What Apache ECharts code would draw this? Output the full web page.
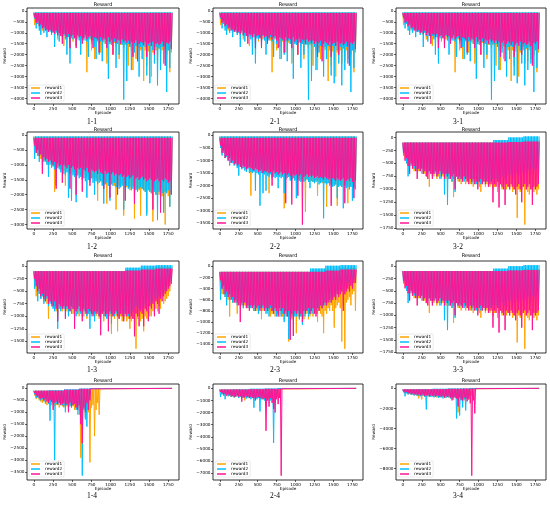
<!DOCTYPE html>
<html><head><meta charset="utf-8">
<script src="https://cdn.jsdelivr.net/npm/echarts@6/dist/echarts.min.js"></script>
<style>html,body{margin:0;padding:0;background:#fff}#c{width:550px;height:505px}</style>
</head><body><div id="c"></div><script>
// sampled episode positions (every 10 episodes)
const episodes = Array.from({length:181},(_,i)=>i*10);
const seriesNames = ['reward1','reward2','reward3'];
const colors = ['#FFA500','#00BFFF','#FF1493'];
const xTicks = [0,250,500,750,1000,1250,1500,1750];
const ticksA = [0,-500,-1000,-1500,-2000,-2500,-3000,-3500,-4000];
const ticksB = [0,-500,-1000,-1500,-2000,-2500,-3000];
const ticksC = [0,-500,-1000,-1500,-2000,-2500,-3000,-3500];
const ticksD = [0,-250,-500,-750,-1000,-1250,-1500];
const ticksE = [0,-200,-400,-600,-800,-1000,-1200,-1400];
const ticksF = [0,-250,-500,-750,-1000,-1250,-1500,-1750];
const ticksG = [0,-500,-1000,-1500,-2000,-2500,-3000,-3500];
const ticksH = [0,-1000,-2000,-3000,-4000,-5000,-6000,-7000];
const ticksI = [0,-2000,-4000,-6000,-8000];

// ---- dataset A (1-1, 2-1, 3-1): band tops and per-20-episode troughs
const A_top = [-80,-70,-100];
const A_reward1 = [-650,-400,-600,-700,-550,-900,-800,-750,-900,-850,
-900,-1000,-850,-1100,-950,-1300,-1000,-1100,-1050,-1600,
-1050,-1200,-1100,-1300,-1150,-1400,-1200,-1250,-1300,-1200,
-1250,-1300,-1200,-1350,-2800,-1250,-1300,-1800,-1350,-2200,
-1350,-1400,-1300,-1900,-1400,-1450,-1500,-2400,-1400,-1500,
-1500,-2000,-1450,-1600,-1500,-2200,-1550,-1500,-1700,-1550,
-1600,-2500,-1650,-1800,-2700,-1700,-2200,-1650,-1700,-1800,
-1750,-3200,-1800,-2500,-1850,-1700,-3000,-1900,-1750,-1800,
-2400,-1750,-2300,-1800,-2200,-1750,-2000,-1800,-2800,-1900];
const A_reward2 = [-350,-800,-600,-900,-1100,-700,-1000,-850,-1200,-950,
-950,-1100,-1000,-1650,-1000,-1150,-1400,-1100,-1200,-1150,
-1300,-2000,-1200,-2400,-1250,-1300,-1200,-1600,-1150,-1350,
-2000,-1300,-1350,-1200,-1400,-2100,-1250,-1500,-1300,-1650,
-2200,-1350,-2000,-1400,-2300,-1350,-1500,-1400,-3100,-1500,
-1550,-1450,-1400,-2600,-1500,-2000,-1450,-1550,-4050,-1500,
-3200,-1500,-1650,-2700,-1500,-1900,-1600,-1550,-3000,-1650,
-2200,-1600,-1650,-2950,-1600,-3300,-1550,-1800,-2400,-1650,
-3400,-1700,-2700,-1650,-2400,-1600,-3700,-1800,-2600,-1700];
const A_reward3 = [-300,-550,-480,-700,-620,-800,-750,-900,-850,-950,
-880,-1000,-950,-1050,-900,-1100,-1000,-1150,-1500,-1050,
-1100,-1200,-1050,-1700,-1150,-1100,-1250,-1700,-1100,-1200,
-1150,-1500,-1250,-1100,-1300,-1200,-1150,-1350,-1700,-1200,
-1250,-1300,-1900,-1200,-1350,-1250,-1300,-1700,-1200,-1400,
-1300,-2000,-1250,-1450,-1300,-1350,-1500,-1300,-1400,-1350,
-1450,-1350,-1500,-1400,-2100,-1450,-1350,-2300,-1500,-1400,
-1450,-1550,-1400,-2100,-1500,-1450,-1600,-1400,-2000,-1500,
-1450,-1550,-1500,-1400,-1600,-2500,-1450,-1500,-1400,-1750];

// ---- dataset B (1-2)
const B_top = [-60,-50,-100];
const B_reward1 = [-400,-600,-550,-700,-800,-750,-850,-900,-950,-1000,
-900,-1000,-1050,-1900,-1000,-1100,-1050,-1150,-1100,-1200,
-1700,-1150,-1250,-1200,-1300,-1250,-1300,-1250,-1350,-1300,
-1350,-1400,-1300,-1450,-1400,-1350,-1500,-1400,-1450,-1500,
-1450,-2200,-1500,-1550,-1600,-1500,-1650,-2300,-1550,-1600,
-1650,-1600,-1700,-2500,-1650,-1700,-1750,-1650,-2700,-1700,
-1750,-1700,-1850,-1750,-1700,-2800,-1800,-1750,-1850,-2700,
-1800,-1850,-1900,-2600,-1800,-1900,-1950,-2900,-1850,-2000,
-1900,-2000,-1850,-2050,-1950,-3000,-1900,-2050,-2400,-1950];
const B_reward2 = [-800,-500,-700,-900,-650,-800,-900,-850,-1000,-1400,
-1000,-1100,-1050,-1150,-1700,-1100,-1150,-1250,-1200,-1300,
-1350,-1250,-2100,-1300,-2200,-1350,-1400,-2250,-1350,-1450,
-1400,-1500,-1450,-1550,-2100,-1500,-1550,-1450,-1600,-2000,
-1550,-1650,-1600,-1550,-1700,-2300,-1650,-1600,-1700,-2200,
-1650,-1700,-1600,-1750,-1700,-1800,-1750,-1700,-2500,-1800,
-1700,-1800,-1750,-1850,-1800,-1750,-1850,-1900,-1800,-1750,
-1800,-1850,-1900,-2700,-1850,-1900,-1950,-1800,-1900,-2000,
-2850,-1900,-1850,-1950,-2600,-1900,-1950,-1850,-2400,-1900];
const B_reward3 = [-350,-600,-500,-700,-650,-1300,-750,-850,-800,-900,
-850,-950,-1000,-900,-1800,-950,-1050,-1000,-1600,-1000,
-1050,-1100,-1000,-1800,-1100,-1050,-1150,-2000,-1100,-1150,
-1100,-1900,-1150,-1200,-1100,-1250,-1700,-1150,-1200,-1250,
-1200,-1300,-1150,-1250,-1300,-1800,-1200,-1300,-1250,-2100,
-1300,-1250,-1350,-1300,-2000,-1350,-1300,-1400,-1350,-2200,
-1400,-1350,-1450,-1400,-1350,-2300,-1450,-1400,-1500,-1450,
-1400,-1500,-1450,-1550,-1500,-1450,-1500,-2500,-1550,-1500,
-1450,-1550,-2600,-1500,-1550,-1450,-1500,-1600,-1550,-2000];

// ---- dataset C (2-2)
const C_top = [-50,-40,-100];
const C_reward1 = [-300,-500,-600,-700,-750,-800,-900,-850,-950,-1000,
-1050,-1000,-1100,-1150,-1100,-1200,-1250,-1200,-1300,-1250,
-2400,-1300,-1350,-1400,-1350,-1450,-1400,-1450,-1400,-1450,
-1500,-1450,-2300,-1500,-1550,-1500,-1550,-1500,-1600,-1550,
-1600,-1550,-2900,-1650,-1600,-1650,-1700,-1650,-1700,-1750,
-1700,-1750,-1800,-1750,-1700,-1800,-3050,-1750,-1800,-1850,
-1800,-1850,-1900,-1800,-2400,-1850,-1800,-1900,-1850,-1900,
-2850,-1900,-1950,-1900,-1950,-2000,-1950,-2800,-2000,-1950,
-2000,-2050,-1950,-2000,-2700,-1950,-2000,-2050,-2000,-1950];
const C_reward2 = [-500,-800,-700,-900,-850,-1000,-1200,-1050,-1100,-1200,
-1150,-1300,-1600,-1250,-1350,-1300,-1400,-1450,-1350,-1500,
-1450,-1500,-1450,-2200,-1500,-1550,-2800,-1500,-2300,-1550,
-2200,-1600,-1650,-1550,-1700,-1650,-1700,-1650,-2100,-1650,
-1700,-1650,-2300,-1750,-1700,-1650,-1800,-1750,-1700,-1800,
-2500,-1750,-1800,-1850,-1800,-1850,-1800,-1750,-1850,-2100,
-1800,-1850,-1900,-1850,-1800,-1950,-1900,-1850,-3300,-1900,
-1950,-1900,-2000,-1950,-2050,-2000,-1950,-2500,-2050,-2000,
-2050,-2900,-2000,-2100,-2050,-2150,-2050,-2600,-2100,-2150];
const C_reward3 = [-400,-700,-600,-900,-800,-1000,-900,-1100,-1000,-1150,
-1100,-1200,-1150,-1250,-1300,-1200,-1250,-1350,-1300,-1250,
-1300,-1350,-1400,-1300,-1350,-1450,-1400,-1350,-1500,-1400,
-1450,-1400,-1500,-1450,-2000,-1400,-1500,-1450,-1550,-1500,
-1450,-1550,-1500,-2700,-1550,-1500,-1600,-2750,-1550,-1600,
-1550,-2400,-1600,-1550,-3550,-1650,-1600,-1550,-1650,-1600,
-1650,-1600,-1700,-1650,-1600,-1700,-1650,-1700,-1750,-1650,
-1700,-1750,-1700,-2800,-1700,-1750,-1800,-1700,-1750,-1800,
-1750,-1700,-2700,-1800,-1750,-1800,-1700,-1850,-2500,-1800];

// ---- dataset D (1-3): tops per 200-episode block
const D_top1 = [-100,-100,-100,-100,-100,-100,-80,-40,-20];
const D_top2 = [-100,-100,-100,-100,-100,-100,-30,10,20];
const D_top3 = [-100,-100,-100,-100,-100,-100,-90,-70,-50];
const D_reward1 = [-300,-600,-500,-550,-650,-600,-700,-650,-750,-1050,
-700,-750,-800,-750,-900,-1000,-800,-850,-900,-800,
-850,-900,-950,-850,-900,-950,-850,-900,-950,-1000,
-900,-950,-1000,-950,-1050,-900,-950,-1000,-950,-900,
-1000,-950,-1050,-1000,-950,-1100,-1000,-950,-1050,-1000,
-1350,-1000,-1050,-1000,-1300,-1050,-1000,-1100,-1050,-1000,
-1100,-1050,-1250,-1100,-1050,-1100,-1650,-1050,-1000,-1100,
-1050,-1300,-1000,-1050,-950,-1000,-1000,-900,-950,-850,
-900,-800,-850,-600,-750,-700,-650,-600,-500,-250];
const D_reward2 = [-450,-300,-700,-550,-650,-600,-750,-700,-650,-800,
-750,-800,-850,-900,-800,-1250,-850,-900,-800,-850,
-900,-850,-1000,-900,-950,-850,-900,-1000,-950,-900,
-950,-1000,-900,-950,-1000,-950,-1250,-900,-950,-1100,
-900,-950,-1000,-950,-900,-1000,-950,-1050,-1000,-950,
-1150,-950,-1000,-950,-900,-1000,-950,-900,-1000,-950,
-900,-1000,-950,-850,-900,-850,-800,-900,-850,-800,
-850,-800,-750,-800,-700,-750,-650,-700,-600,-650,
-550,-600,-500,-550,-450,-500,-400,-350,-300,-250];
const D_reward3 = [-250,-400,-500,-450,-600,-550,-650,-700,-600,-750,
-700,-750,-800,-700,-850,-1100,-750,-800,-850,-800,
-1050,-800,-850,-900,-800,-850,-1250,-900,-850,-800,
-900,-1100,-850,-900,-950,-850,-900,-950,-1000,-900,
-950,-900,-1000,-1380,-950,-900,-1000,-950,-1300,-900,
-950,-1000,-950,-900,-1000,-1050,-950,-1000,-1100,-950,
-1000,-950,-1050,-1000,-1050,-1400,-950,-1000,-1200,-900,
-950,-1200,-850,-900,-1100,-800,-850,-750,-1000,-700,
-750,-950,-650,-700,-600,-550,-500,-450,-400,-350];

// ---- dataset E (2-3)
const E_top1 = [-100,-100,-100,-100,-100,-100,-90,-60,-30];
const E_top2 = [-100,-100,-100,-100,-100,-100,-40,10,20];
const E_top3 = [-100,-100,-100,-100,-100,-100,-100,-80,-60];
const E_reward1 = [-300,-500,-450,-550,-500,-600,-900,-550,-650,-600,
-650,-850,-600,-700,-650,-750,-700,-650,-750,-700,
-750,-700,-800,-750,-800,-850,-750,-950,-800,-750,
-800,-850,-800,-900,-850,-800,-900,-850,-800,-900,
-850,-900,-950,-900,-850,-1350,-900,-950,-900,-850,
-1200,-900,-950,-900,-850,-950,-900,-850,-950,-900,
-850,-900,-800,-850,-1000,-800,-850,-900,-1200,-800,
-850,-750,-800,-700,-800,-1100,-750,-700,-650,-750,
-1350,-700,-1480,-650,-600,-550,-700,-500,-450,-800];
const E_reward2 = [-600,-400,-500,-550,-700,-500,-600,-550,-650,-600,
-650,-700,-600,-650,-700,-750,-650,-700,-750,-700,
-750,-700,-800,-750,-700,-850,-750,-800,-750,-800,
-850,-800,-900,-750,-800,-850,-800,-900,-850,-800,
-900,-850,-1000,-850,-900,-1300,-850,-900,-850,-900,
-900,-850,-950,-900,-1050,-900,-850,-800,-900,-850,
-800,-850,-750,-800,-850,-750,-700,-750,-650,-700,
-650,-600,-650,-550,-600,-500,-550,-450,-500,-400,
-450,-400,-350,-400,-300,-350,-250,-300,-200,-250];
const E_reward3 = [-250,-400,-350,-500,-450,-550,-500,-600,-550,-650,
-600,-650,-700,-1000,-650,-700,-650,-750,-700,-800,
-700,-750,-700,-800,-750,-700,-800,-750,-700,-800,
-750,-800,-750,-700,-800,-850,-750,-800,-900,-750,
-800,-750,-850,-800,-900,-800,-1320,-850,-1250,-800,
-850,-800,-900,-850,-1000,-800,-850,-800,-750,-850,
-800,-750,-850,-900,-750,-800,-700,-750,-700,-650,
-700,-650,-600,-650,-600,-550,-600,-500,-550,-500,
-450,-800,-500,-450,-400,-450,-350,-400,-300,-300];

// ---- dataset F (3-2, 3-3)
const F_top1 = [-100,-100,-100,-100,-100,-100,-100,-80,-60];
const F_top2 = [-100,-100,-100,-100,-100,-100,-50,0,20];
const F_top3 = [-100,-100,-100,-100,-100,-100,-100,-90,-80];
const F_reward1 = [-250,-400,-500,-450,-550,-500,-600,-650,-550,-600,
-650,-600,-700,-650,-700,-750,-650,-950,-700,-650,
-750,-700,-800,-750,-700,-800,-750,-700,-800,-750,
-800,-750,-850,-1150,-800,-750,-850,-800,-900,-850,
-800,-900,-850,-800,-900,-850,-950,-900,-850,-900,
-950,-1050,-900,-850,-950,-900,-850,-950,-900,-1000,
-950,-900,-1050,-950,-900,-1000,-950,-900,-1000,-950,
-1000,-950,-1050,-1000,-950,-1550,-1000,-1050,-1000,-950,
-1680,-1000,-1050,-1100,-1000,-950,-1050,-1000,-1100,-1000];
const F_reward2 = [-350,-250,-500,-750,-450,-550,-500,-600,-550,-650,
-600,-650,-600,-700,-650,-600,-700,-650,-700,-750,
-700,-650,-750,-700,-800,-750,-700,-1100,-750,-1300,
-800,-750,-850,-800,-1050,-750,-800,-850,-800,-750,
-850,-800,-750,-850,-800,-900,-850,-800,-900,-850,
-800,-900,-850,-800,-900,-850,-800,-850,-900,-800,
-850,-800,-750,-850,-800,-750,-700,-800,-750,-700,
-750,-700,-800,-750,-700,-650,-750,-700,-650,-700,
-650,-700,-600,-650,-700,-600,-650,-600,-550,-600];
const F_reward3 = [-300,-450,-400,-550,-700,-500,-600,-550,-650,-800,
-600,-650,-600,-700,-650,-750,-800,-650,-700,-800,
-700,-650,-750,-700,-650,-750,-700,-800,-700,-750,
-700,-800,-750,-700,-1000,-750,-800,-750,-800,-850,
-750,-800,-850,-900,-800,-850,-800,-900,-850,-1000,
-850,-800,-900,-850,-900,-850,-950,-900,-850,-1250,
-900,-950,-850,-1350,-900,-950,-1000,-1300,-900,-950,
-1000,-900,-950,-1000,-1100,-950,-900,-1000,-1250,-950,
-900,-1000,-950,-900,-1000,-1300,-950,-1000,-950,-900];

// ---- dataset G (1-4): learning ends, then flat reward
const G_top1 = [-100,-100,-80,-40,-20];
const G_top2 = [-100,-80,-40,-10];
const G_top3 = [-100,-100,-60,-20];
const G_flat = 0;
const G_reward1 = [-300,-450,-400,-500,-550,-600,-500,-650,-700,-600,
-650,-700,-600,-750,-700,-650,-800,-700,-750,-800,
-700,-750,-850,-700,-800,-750,-900,-800,-1100,-800,
-2900,-1000,-800,-1200,-900,-1000,-3100,-800,-700,-2000,
-900,-600,-1100];
const G_reward2 = [-250,-400,-300,-450,-500,-450,-550,-600,-500,-650,
-1350,-550,-600,-3000,-650,-700,-600,-650,-700,-750,
-1000,-700,-650,-750,-800,-700,-650,-900,-750,-1100,
-800,-3650,-900,-1300,-1600,-700];
const G_reward3 = [-200,-300,-350,-400,-450,-400,-500,-450,-550,-600,
-500,-550,-900,-600,-550,-650,-600,-700,-650,-600,
-700,-650,-1000,-600,-750,-700,-650,-800,-900,-700,
-1500,-2300,-800,-1000,-600,-900,-500];

// ---- dataset H (2-4)
const H_top1 = [-100,-100,-80,-50];
const H_top2 = [-100,-80,-30,-10];
const H_top3 = [-100,-100,-70,-40,-30];
const H_flat = 0;
const H_reward1 = [-300,-450,-500,-600,-550,-650,-600,-700,-650,-750,
-700,-650,-750,-700,-800,-750,-1000,-700,-750,-800,
-750,-800,-700,-850,-800,-750,-850,-800,-900,-850,
-800,-900,-850,-800,-900,-1000,-850,-700,-600,-500];
const H_reward2 = [-700,-500,-600,-900,-550,-650,-600,-700,-650,-750,
-700,-650,-800,-700,-750,-800,-700,-850,-750,-800,
-900,-800,-1600,-850,-900,-800,-1900,-900,-850,-1000,
-900,-950,-800,-1000,-900,-4500,-800,-700];
const H_reward3 = [-300,-400,-500,-450,-600,-500,-550,-650,-600,-700,
-650,-600,-700,-650,-1100,-700,-750,-650,-700,-800,
-700,-750,-800,-1000,-750,-700,-800,-750,-900,-800,
-3500,-1000,-1500,-800,-1200,-1700,-2000,-900,-1300,-800,
-7200];

// ---- dataset I (3-4)
const I_top1 = [-100,-100,-80,-50,-40];
const I_top2 = [-100,-80,-40,-10,-10];
const I_top3 = [-100,-100,-80,-50,-30];
const I_flat = 0;
const I_reward1 = [-300,-500,-450,-600,-550,-650,-600,-700,-650,-750,
-1000,-700,-1100,-750,-700,-800,-750,-850,-800,-750,
-850,-800,-900,-850,-800,-900,-850,-950,-900,-850,
-950,-900,-1000,-950,-900,-1000,-2400,-950,-1100,-1000,
-1200,-1000,-900,-1100,-800,-700];
const I_reward2 = [-400,-800,-500,-600,-550,-650,-600,-700,-650,-750,
-700,-800,-750,-700,-850,-2100,-800,-750,-850,-800,
-900,-850,-800,-950,-900,-850,-1000,-900,-950,-850,
-900,-1000,-950,-1100,-900,-3000,-1000,-2700,-1200,-1900,
-1100,-2200,-900,-800];
const I_reward3 = [-300,-400,-350,-500,-450,-550,-500,-600,-550,-650,
-600,-700,-650,-600,-750,-700,-650,-800,-700,-750,
-700,-800,-750,-700,-850,-800,-750,-900,-800,-850,
-800,-900,-1200,-850,-900,-1000,-1800,-900,-1100,-1200,
-900,-1000,-1300,-1100,-1500,-8700,-1200,-2500];

const datasets = {
  A:{low:[A_reward1,A_reward2,A_reward3], top:A_top},
  B:{low:[B_reward1,B_reward2,B_reward3], top:B_top},
  C:{low:[C_reward1,C_reward2,C_reward3], top:C_top},
  D:{low:[D_reward1,D_reward2,D_reward3], top:[D_top1,D_top2,D_top3]},
  E:{low:[E_reward1,E_reward2,E_reward3], top:[E_top1,E_top2,E_top3]},
  F:{low:[F_reward1,F_reward2,F_reward3], top:[F_top1,F_top2,F_top3]},
  G:{low:[G_reward1,G_reward2,G_reward3], top:[G_top1,G_top2,G_top3], flat:G_flat},
  H:{low:[H_reward1,H_reward2,H_reward3], top:[H_top1,H_top2,H_top3], flat:H_flat},
  I:{low:[I_reward1,I_reward2,I_reward3], top:[I_top1,I_top2,I_top3], flat:I_flat}
};
const panels = [
  {name:'1-1',ds:'A',ticks:ticksA,col:0,row:0},{name:'2-1',ds:'A',ticks:ticksA,col:1,row:0},{name:'3-1',ds:'A',ticks:ticksA,col:2,row:0},
  {name:'1-2',ds:'B',ticks:ticksB,col:0,row:1},{name:'2-2',ds:'C',ticks:ticksC,col:1,row:1},{name:'3-2',ds:'F',ticks:ticksF,col:2,row:1},
  {name:'1-3',ds:'D',ticks:ticksD,col:0,row:2},{name:'2-3',ds:'E',ticks:ticksE,col:1,row:2},{name:'3-3',ds:'F',ticks:ticksF,col:2,row:2},
  {name:'1-4',ds:'G',ticks:ticksG,col:0,row:3},{name:'2-4',ds:'H',ticks:ticksH,col:1,row:3},{name:'3-4',ds:'I',ticks:ticksI,col:2,row:3}
];

// layout
const cols = [{left:27,width:152,cx:92},{left:213,width:150,cx:275},{left:396,width:150,cx:458}];
const rows = [{top:8,height:96,title:5,cap:123},{top:132,height:97,title:130,cap:248},{top:261,height:92,title:256,cap:371},{top:384,height:96,title:381,cap:497}];

function build(low, top, flat){
  const n = low.length, pts = [];
  const topAt = k => Array.isArray(top) ? top[Math.min(Math.floor(k/10), top.length-1)] : top;
  for (let k=0;k<n;k++){ pts.push([episodes[2*k], topAt(k)]); pts.push([episodes[2*k+1], low[k]]); }
  pts.push([episodes[2*n], topAt(n)]);
  if (flat !== undefined && 2*n < 180){ pts.push([episodes[2*n+1], flat]); pts.push([episodes[180], flat]); }
  return pts;
}
const FONT = 'DejaVu Sans';
const fmt = v => v < 0 ? '\u2212' + (-v) : String(v);
const grid=[], xAxis=[], yAxis=[], series=[], title=[], legend=[];
panels.forEach((p,i)=>{
  const c = cols[p.col], r = rows[p.row], d = datasets[p.ds];
  const data = d.low.map((lw,j)=>build(lw, d.top[j], d.flat));
  let mn=Infinity,mx=-Infinity;
  data.forEach(s=>s.forEach(q=>{ if(q[1]<mn)mn=q[1]; if(q[1]>mx)mx=q[1]; }));
  const R = mx-mn;
  grid.push({left:c.left, top:r.top, width:c.width, height:r.height, show:true, borderColor:'#000', borderWidth:0.8, backgroundColor:'#fff', containLabel:false, outerBoundsMode:'none'});
  xAxis.push({type:'value', gridIndex:i, min:-90, max:1890, position:'bottom', splitLine:{show:false}, axisLine:{show:false, onZero:false},
    axisTick:{show:true, length:2, customValues:xTicks, lineStyle:{color:'#000', width:0.6}},
    axisLabel:{customValues:xTicks, fontSize:4.2, fontFamily:FONT, color:'#000', margin:2.5, formatter:fmt},
    name:'Episode', nameLocation:'middle', nameGap:6.5, nameTextStyle:{fontSize:4.2, fontFamily:FONT, color:'#000'}});
  yAxis.push({type:'value', gridIndex:i, min:mn-0.05*R, max:mx+0.05*R, position:'left', splitLine:{show:false}, axisLine:{show:false, onZero:false},
    axisTick:{show:true, length:2, customValues:p.ticks, lineStyle:{color:'#000', width:0.6}},
    axisLabel:{customValues:p.ticks, fontSize:4.2, fontFamily:FONT, color:'#000', margin:2.5, formatter:fmt},
    name:'Reward', nameLocation:'middle', nameGap:17, nameTextStyle:{fontSize:4.2, fontFamily:FONT, color:'#000'}});
  data.forEach((s,j)=>series.push({type:'line', name:seriesNames[j], xAxisIndex:i, yAxisIndex:i, data:s,
    symbol:'none', showSymbol:false, silent:true, animation:false, lineStyle:{width:1, color:colors[j]}, itemStyle:{color:colors[j]}, z:2+j}));
  title.push({text:'Reward', left:c.left+c.width/2, top:r.title-3, textAlign:'center', padding:0,
    textStyle:{fontSize:5, fontWeight:'normal', color:'#000', fontFamily:FONT}});
  title.push({text:p.name, left:c.cx, top:r.cap-4.5, textAlign:'center', padding:0,
    textStyle:{fontSize:7.5, fontWeight:'normal', color:'#000', fontFamily:'Liberation Serif'}});
  legend.push({data:seriesNames, orient:'vertical', left:c.left+2, top:r.top+r.height-19, itemWidth:9, itemHeight:1.5, itemGap:1,
    icon:'rect', padding:[1,2], backgroundColor:'rgba(255,255,255,0.8)', borderColor:'rgba(204,204,204,0.8)', borderWidth:0.5, borderRadius:1,
    selectedMode:false, textStyle:{fontSize:4.2, fontFamily:FONT, color:'#000'}, z:10});
});
const chart = echarts.init(document.getElementById('c'), null, {renderer:'canvas'});
chart.setOption({animation:false, backgroundColor:'#fff', grid, xAxis, yAxis, series, title, legend});
</script></body></html>
